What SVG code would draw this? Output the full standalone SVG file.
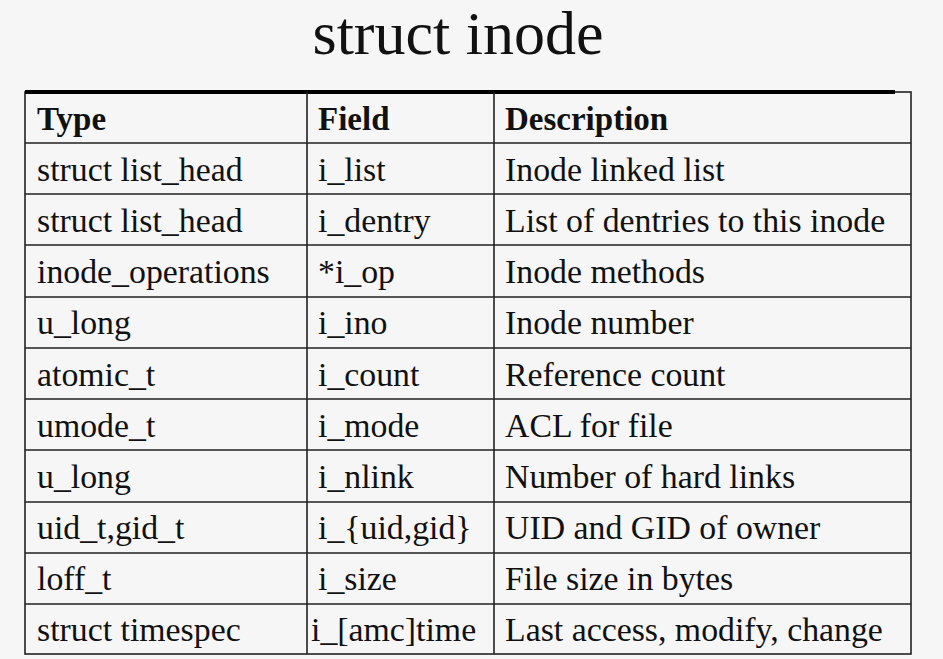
<svg xmlns="http://www.w3.org/2000/svg" width="943" height="659" viewBox="0 0 943 659">
<style>
.t{font-family:"Liberation Serif",serif;font-size:33.8px;fill:#111}
.h{font-weight:bold;font-size:33px}
.g{stroke:#222;stroke-width:1.6;fill:none}
</style>
<rect width="943" height="659" fill="#f6f6f6"/>
<text x="458" y="54" text-anchor="middle" class="t" style="font-size:62px">struct inode</text>
<g id="grid">
<rect x="25" y="92" width="886" height="562" class="g" stroke-width="2"/>
<line x1="25" y1="92" x2="895" y2="92" stroke="#000" stroke-width="4"/>
<line x1="307" y1="92" x2="307" y2="654" class="g"/>
<line x1="494" y1="92" x2="494" y2="654" class="g"/>
<path class="g" d="M25 143H911M25 194H911M25 245H911M25 297H911M25 348H911M25 399H911M25 450H911M25 502H911M25 553H911M25 604H911"/>
</g>
<g id="rows" class="t">
<text x="37" y="130" class="t h">Type</text><text x="318" y="130" class="t h">Field</text><text x="505" y="130" class="t h">Description</text>
<text x="37" y="181">struct list_head</text><text x="318" y="181">i_list</text><text x="505" y="181">Inode linked list</text>
<text x="37" y="232">struct list_head</text><text x="318" y="232">i_dentry</text><text x="505" y="232">List of dentries to this inode</text>
<text x="37" y="283">inode_operations</text><text x="318" y="283">*i_op</text><text x="505" y="283">Inode methods</text>
<text x="37" y="334">u_long</text><text x="318" y="334">i_ino</text><text x="505" y="334">Inode number</text>
<text x="37" y="386">atomic_t</text><text x="318" y="386">i_count</text><text x="505" y="386">Reference count</text>
<text x="37" y="437">umode_t</text><text x="318" y="437">i_mode</text><text x="505" y="437">ACL for file</text>
<text x="37" y="488">u_long</text><text x="318" y="488">i_nlink</text><text x="505" y="488">Number of hard links</text>
<text x="37" y="539">uid_t,gid_t</text><text x="318" y="539">i_{uid,gid}</text><text x="505" y="539">UID and GID of owner</text>
<text x="37" y="590">loff_t</text><text x="318" y="590">i_size</text><text x="505" y="590">File size in bytes</text>
<text x="37" y="641">struct timespec</text><text x="311" y="641">i_[amc]time</text><text x="505" y="641">Last access, modify, change</text>
</g>
</svg>
